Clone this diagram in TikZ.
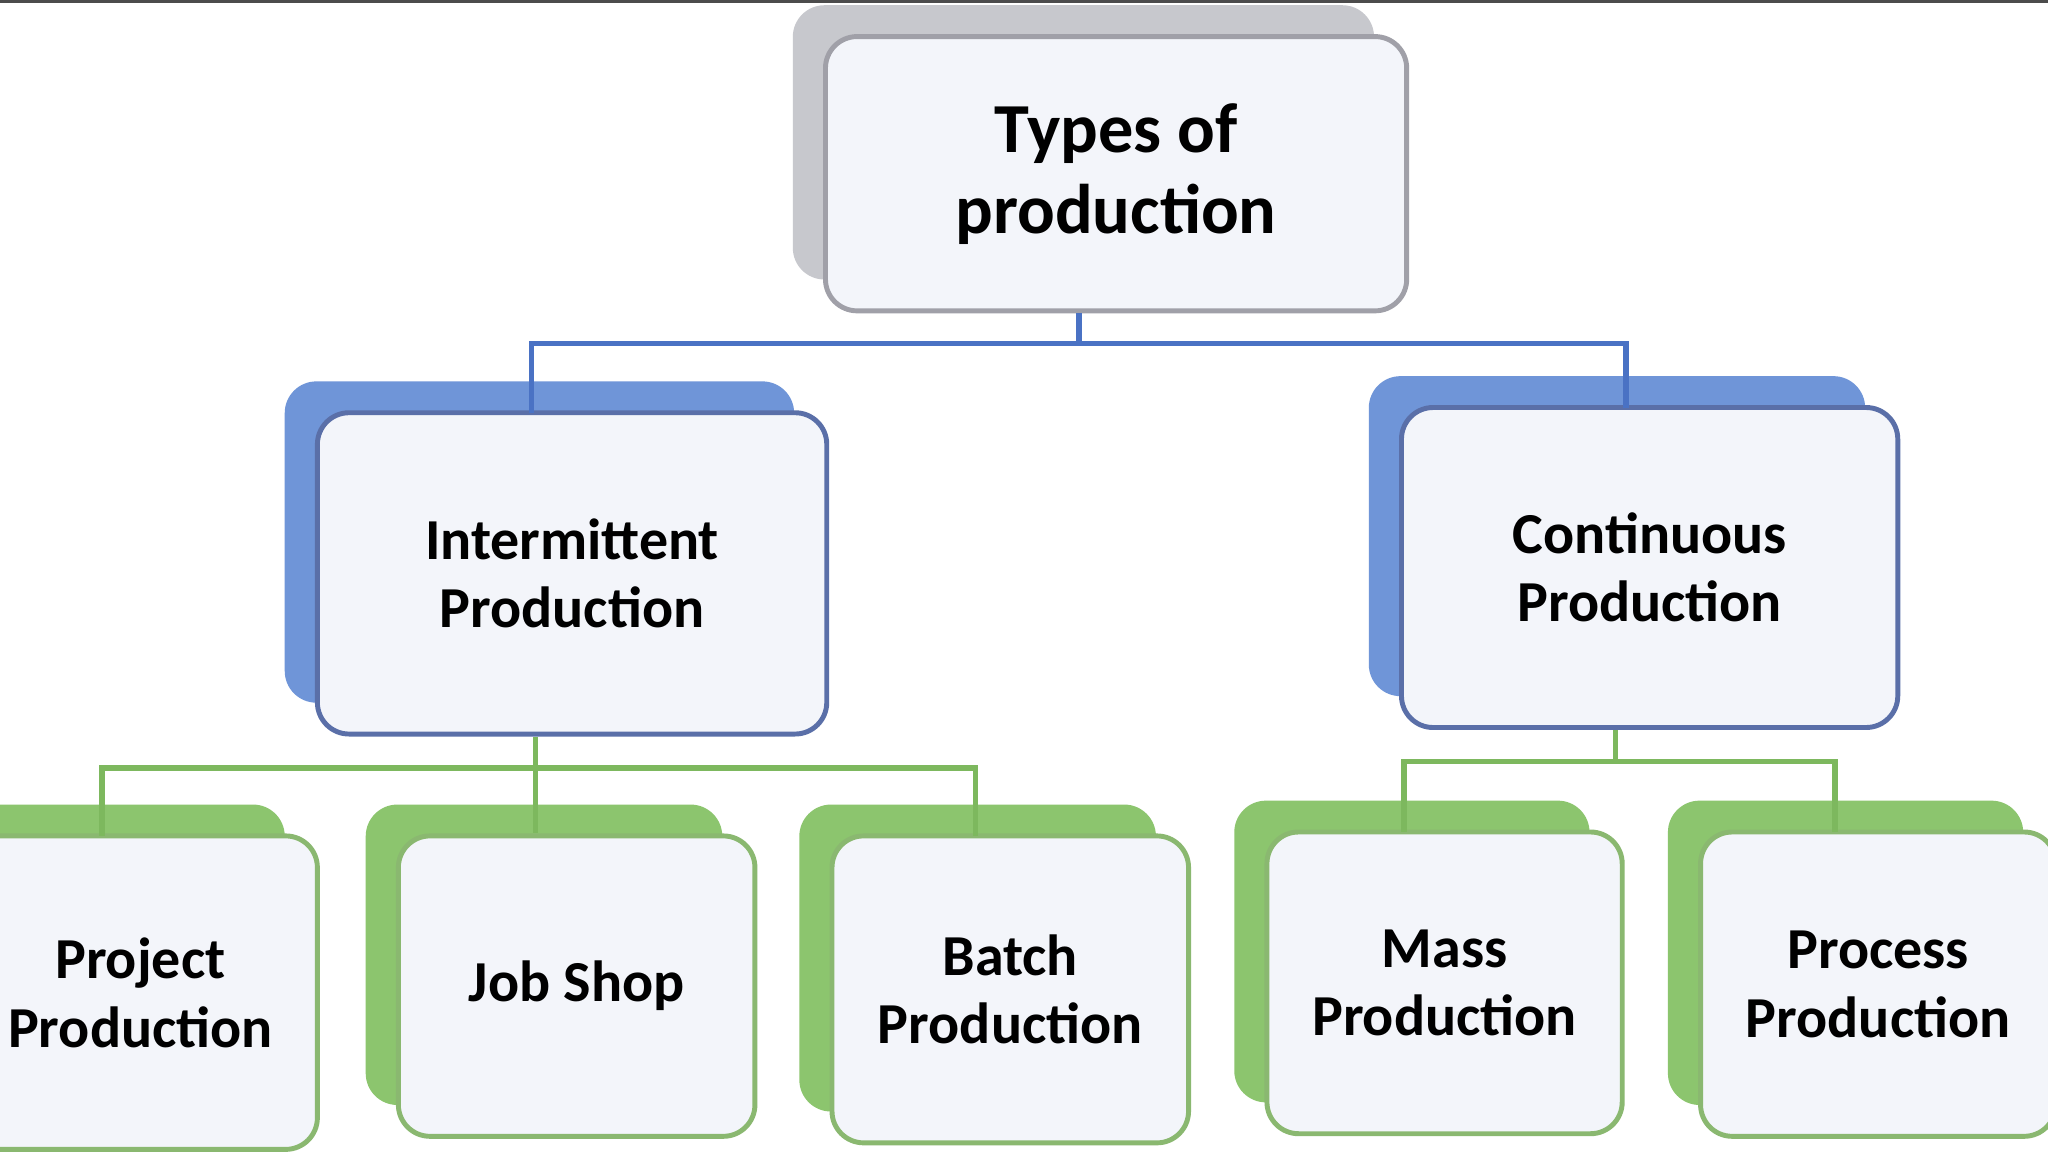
\documentclass[tikz,border=0pt]{standalone}
\usepackage{fontspec}
\setmainfont{Carlito}
\begin{document}
\def\u{0.013061}
\definecolor{frontfill}{HTML}{F3F5FA}
\definecolor{bk1}{HTML}{C7C8CD}\definecolor{bd1}{HTML}{A0A0A8}
\definecolor{bk2}{HTML}{6F95D8}\definecolor{bd2}{HTML}{5A6FA8}
\definecolor{bk3}{HTML}{8CC56E}\definecolor{bd3}{HTML}{8AB870}
\definecolor{lineblue}{HTML}{4A72C4}\definecolor{linegreen}{HTML}{7DB85E}
\begin{tikzpicture}[x=0.013061cm,y=-0.013061cm,
  front/.style={draw,rounded corners=9pt,line width=1.4pt,fill=frontfill,align=center,font=\bfseries\fontsize{16.5}{19.5}\selectfont,inner sep=0pt},
  topfont/.style={font=\bfseries\fontsize{20}{23}\selectfont},
  back/.style={rounded corners=9pt,inner sep=0pt},
  bline/.style={draw=lineblue,line width=1.6pt},
  grline/.style={draw=linegreen,line width=1.6pt}]
\useasboundingbox (0,0) rectangle (1568,882);
\fill[white] (0,0) rectangle (1568,882);
\draw[gray!60!black,line width=1.5pt] (0,0) -- (1568,0);
\newcommand\bx[9]{%
  \node[back,fill=#7,minimum width={(#4-#2)*\u cm},minimum height={(#5-#3)*\u cm}] (#1b) at ({(#2+#4)/2-25},{(#3+#5)/2-24}) {};
  \node[front,draw=#6,#9,minimum width={(#4-#2)*\u cm},minimum height={(#5-#3)*\u cm}] (#1) at ({(#2+#4)/2},{(#3+#5)/2}) {#8};}
\bx{top}{632}{28}{1077}{238}{bd1}{bk1}{Types of\\production}{topfont}
\bx{inter}{243}{316}{633}{562}{bd2}{bk2}{Intermittent\\Production}{}
\bx{cont}{1073}{312}{1453}{557}{bd2}{bk2}{Continuous\\Production}{}
\bx{proj}{-28}{640}{243}{880}{bd3}{bk3}{Project\\Production}{}
\bx{job}{305}{640}{578}{870}{bd3}{bk3}{Job Shop}{}
\bx{batch}{637}{640}{910}{875}{bd3}{bk3}{Batch\\Production}{}
\bx{mass}{970}{637}{1242}{868}{bd3}{bk3}{Mass\\Production}{}
\bx{proc}{1302}{637}{1574}{870}{bd3}{bk3}{Process\\Production}{}
\coordinate (j1) at (826,263);
\coordinate (j2) at (410,588);
\coordinate (j3) at (1237,583);
\draw[bline] (top.south -| j1) -- (j1) -| (407,316);
\draw[bline] (j1) -| (1245,312);
\draw[grline] (inter.south -| j2) -- (j2) -| (78,640);
\draw[grline] (j2) -- (job.north -| j2);
\draw[grline] (j2) -| (747,640);
\draw[grline] (cont.south -| j3) -- (j3) -| (1075,637);
\draw[grline] (j3) -| (1405,637);
\end{tikzpicture}
\end{document}
